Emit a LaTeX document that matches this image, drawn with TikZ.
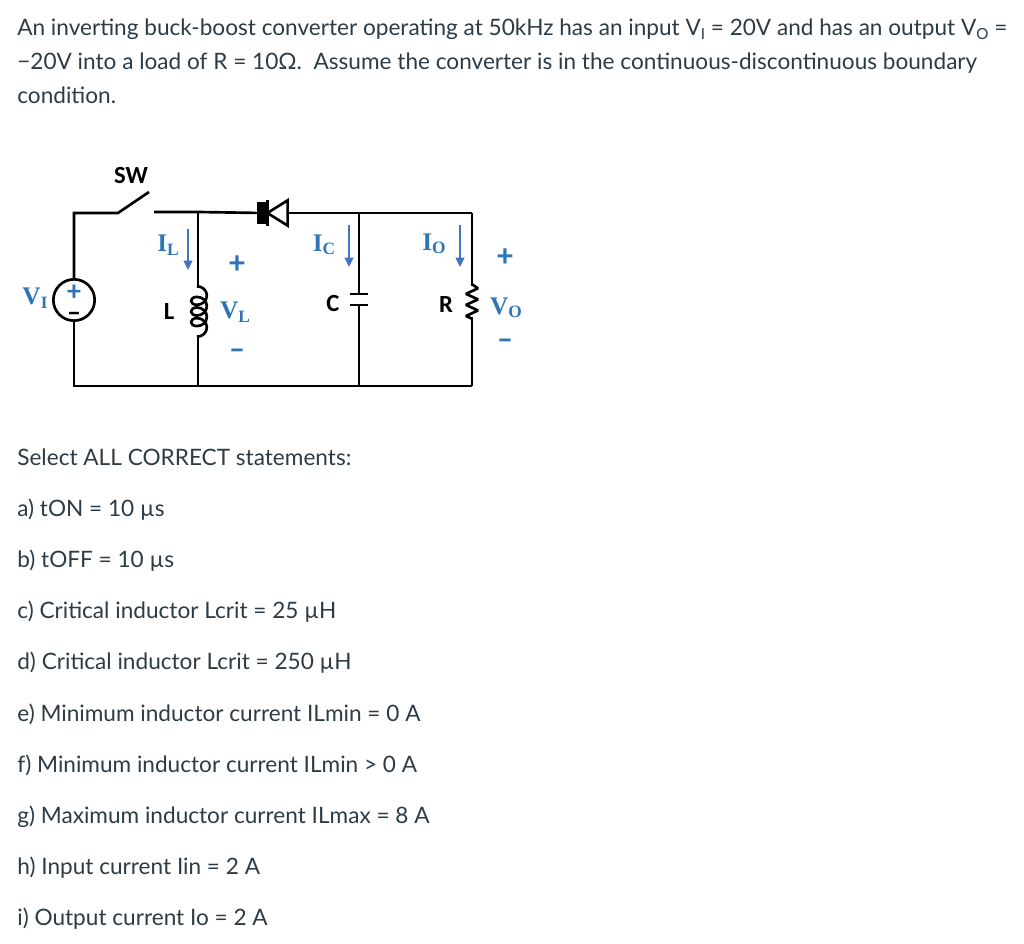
\documentclass[tikz,border=0pt]{standalone}
\usepackage{fontspec}
\usepackage{circuitikz}
\usetikzlibrary{arrows.meta}
\setmainfont{Lato}
\newfontfamily\partfont{Carlito}
\newfontfamily\valuefont{Liberation Serif}
\definecolor{textgray}{HTML}{2D3B45}
\definecolor{valueblue}{HTML}{2E75B6}
\definecolor{arrowblue}{HTML}{4472C4}
\newcommand{\lowsub}[1]{\raisebox{-0.35ex}{\fontsize{11.4}{11.4}\selectfont #1}}
\newcommand{\valuelabel}[2]{#1\raisebox{-0.3ex}{\fontsize{13}{13}\selectfont #2}}
\tikzset{
	line/.style={anchor=base west, inner sep=0pt, text=textgray, font=\fontsize{16.95}{16.95}\selectfont},
	part/.style={inner sep=0pt, text=black, font=\fontsize{18.5}{18.5}\selectfont\partfont\bfseries},
	value/.style={inner sep=0pt, text=valueblue, font=\fontsize{19}{19}\selectfont\valuefont\bfseries},
	sign/.style={inner sep=0pt, text=valueblue, font=\fontsize{24}{24}\selectfont\partfont\bfseries},
	inner sign/.style={sign, align=center, font=\fontsize{21}{15.5}\selectfont\partfont\bfseries},
	current/.style={draw=arrowblue, line width=1.3pt, -{Triangle[width=6.5pt,length=7pt]}},
}
\begin{document}
\begin{tikzpicture}[x=0.75pt, y=0.75pt, line width=2pt]
	\ctikzset{bipoles/thickness=1, resistors/scale=0.75, inductors/scale=1.5, inductors/coils=4, bipoles/cuteinductor/height=.25, capacitors/scale=0.55, bipoles/capacitor/width=.38, diodes/scale=0.95}
	\useasboundingbox (0, 0) rectangle (1024, 943);
	% Question text:
	\node[line] (T1) at (16, 907) {An inverting buck-boost converter operating at 50kHz has an input V\lowsub{I} = 20V and has an output V\lowsub{O} =};
	\node[line] (T2) at (16, 873) {−20V into a load of R = 10Ω.\ \ Assume the converter is in the continuous-discontinuous boundary};
	\node[line] (T3) at (16, 839) {condition.};
	\node[line] (Q0) at (16, 477) {Select ALL CORRECT statements:};
	\node[line] (Qa) at (16, 426) {a) tON = 10 µs};
	\node[line] (Qb) at (16, 375) {b) tOFF = 10 µs};
	\node[line] (Qc) at (16, 325) {c) Critical inductor Lcrit = 25 µH};
	\node[line] (Qd) at (16, 273) {d) Critical inductor Lcrit = 250 µH};
	\node[line] (Qe) at (16, 222) {e) Minimum inductor current ILmin = 0 A};
	\node[line] (Qf) at (16, 171) {f) Minimum inductor current ILmin > 0 A};
	\node[line] (Qg) at (16, 120) {g) Maximum inductor current ILmax = 8 A};
	\node[line] (Qh) at (16, 69) {h) Input current Iin = 2 A};
	\node[line] (Qi) at (16, 18) {i) Output current Io = 2 A};
	% Paths, nodes and wires:
	\node[circle, draw, minimum size=31pt, inner sep=0pt] (VS) at (74, 643) {};
	\coordinate (TL) at (74, 730);
	\coordinate (BL) at (74, 557);
	\coordinate (SWa) at (118, 730);
	\coordinate (SWb) at (149, 751);
	\coordinate (SWc) at (154, 731);
	\coordinate (NL) at (198, 731);
	\coordinate (LT) at (198, 668);
	\coordinate (LB) at (198, 595);
	\coordinate (BN) at (198, 557);
	\coordinate (DA) at (307, 730);
	\coordinate (DK) at (248, 730);
	\node[fill=black, inner sep=0pt, minimum width=7.5pt, minimum height=17pt] (DB) at (262, 730) {};
	\coordinate (NC) at (359, 730);
	\coordinate (BC) at (359, 557);
	\coordinate (NR) at (472, 730);
	\coordinate (RT) at (472, 660);
	\coordinate (RB) at (472, 623);
	\coordinate (BR) at (472, 557);
	\draw (VS.north) -- (TL) -- (SWa) -- (SWb);
	\draw (SWc) -- (NL) -- (DB);
	\draw (DA) to[empty diode] (DK);
	\draw (DA) -- (NC) -- (NR);
	\draw (NL) -- (LT) to[cute inductor] (LB) -- (BN);
	\draw (NC) to[C] (BC);
	\draw (NR) -- (RT) to[american resistor] (RB) -- (BR);
	\draw (VS.south) -- (BL) -- (BN) -- (BC) -- (BR);
	% Labels:
	\node[part] (SW) at (131, 767) {SW};
	\node[part] (LL) at (169, 631) {L};
	\node[part] (CL) at (333, 639) {C};
	\node[part] (RL) at (446, 638) {R};
	\node[value] (VI) at (35, 645) {\valuelabel{V}{I}};
	\node[value] (IL) at (168, 698) {\valuelabel{I}{L}};
	\node[value] (VL) at (235, 631) {\valuelabel{V}{L}};
	\node[value] (IC) at (324, 698) {\valuelabel{I}{C}};
	\node[value] (IO) at (434, 699) {\valuelabel{I}{O}};
	\node[value] (VO) at (506, 635) {\valuelabel{V}{O}};
	\node[inner sign] (VSs) at (74, 640) {+\\\textcolor{black}{–}};
	\node[sign] (VLp) at (237, 678) {+};
	\node[sign] (VLm) at (237, 589) {–};
	\node[sign] (VOp) at (505, 685) {+};
	\node[sign] (VOm) at (505, 599) {–};
	\coordinate (ILa) at (188, 714);
	\coordinate (ILb) at (188, 673);
	\coordinate (ICa) at (349, 718);
	\coordinate (ICb) at (349, 676);
	\coordinate (IOa) at (460, 718);
	\coordinate (IOb) at (460, 676);
	\draw[current] (ILa) -- (ILb);
	\draw[current] (ICa) -- (ICb);
	\draw[current] (IOa) -- (IOb);
\end{tikzpicture}
\end{document}
